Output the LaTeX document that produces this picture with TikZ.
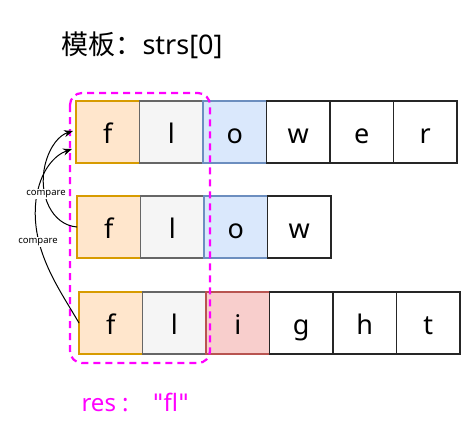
\documentclass[tikz,border=0pt]{standalone}
\usepackage{fontspec}
\setmainfont{Noto Sans}
\newfontfamily\cjk{Noto Sans CJK SC}
\newfontfamily\dvs{DejaVu Sans}
\usetikzlibrary{arrows.meta}
\definecolor{orF}{HTML}{FFE6CC}\definecolor{orD}{HTML}{D79B00}
\definecolor{grF}{HTML}{F5F5F5}\definecolor{grD}{HTML}{666666}
\definecolor{blF}{HTML}{DAE8FC}\definecolor{blD}{HTML}{6C8EBF}
\definecolor{rdF}{HTML}{F8CECC}\definecolor{rdD}{HTML}{B85450}
\definecolor{mag}{HTML}{FF00FF}
\tikzset{
  cell/.style={draw, line width=1.2pt, outer sep=0pt, minimum width=63.5pt, minimum height=62pt, inner sep=0pt, text height=22pt, text depth=0pt, font=\fontsize{27}{27}\selectfont, anchor=north west},
  oc/.style={cell, fill=orF, draw=orD},
  gc/.style={cell, fill=grF, draw=grD},
  bc/.style={cell, fill=blF, draw=blD},
  rc/.style={cell, fill=rdF, draw=rdD},
  wc/.style={cell, fill=white, draw=black!85},
  cmp/.style={-{Stealth[length=9pt,width=7pt]}, line width=1pt},
  lbl/.style={font=\fontsize{9.5}{9.5}\selectfont, fill=white, inner sep=1pt}
}
\begin{document}
\begin{tikzpicture}[x=1pt,y=-1pt]
\useasboundingbox (0,0) rectangle (474,440);
\node[anchor=west, font=\fontsize{27}{27}\selectfont] (title) at (58,45) {\cjk 模板：\rmfamily strs[0]};
% row 1
\node[oc] (a1) at (76,101) {f};
\node[gc] (a2) at (a1.north east) {l};
\node[bc] (a3) at (a2.north east) {o};
\node[wc] (a4) at (a3.north east) {w};
\node[wc] (a5) at (a4.north east) {e};
\node[wc] (a6) at (a5.north east) {r};
% row 2
\node[oc] (b1) at (77,196) {f};
\node[gc] (b2) at (b1.north east) {l};
\node[bc] (b3) at (b2.north east) {o};
\node[wc] (b4) at (b3.north east) {w};
% row 3
\node[oc] (c1) at (79,292) {f};
\node[gc] (c2) at (c1.north east) {l};
\node[rc] (c3) at (c2.north east) {i};
\node[wc] (c4) at (c3.north east) {g};
\node[wc] (c5) at (c4.north east) {h};
\node[wc] (c6) at (c5.north east) {t};
% highlight
\draw[mag, line width=2.2pt, dash pattern=on 7pt off 5pt, rounded corners=12pt] (70,93) rectangle (210,363);
% arrows
\coordinate (t1) at (73,131);
\coordinate (t2) at (72,149);
\draw[cmp] (b1.west) .. controls (52,225) and (38,195) .. (45,165) .. controls (50,145) and (60,135) .. (t1);
\draw[cmp] (c1.west) .. controls (60,290) and (30,250) .. (36,200) .. controls (40,170) and (55,155) .. (t2);
\node[lbl] (l1) at (46,194) {compare};
\node[lbl] (l2) at (38,242) {compare};
\node[anchor=west, text=mag, font=\fontsize{24}{24}\selectfont] (res) at (78,402) {res :\quad{\dvs\symbol{34}}fl{\dvs\symbol{34}}};
\end{tikzpicture}
\end{document}
